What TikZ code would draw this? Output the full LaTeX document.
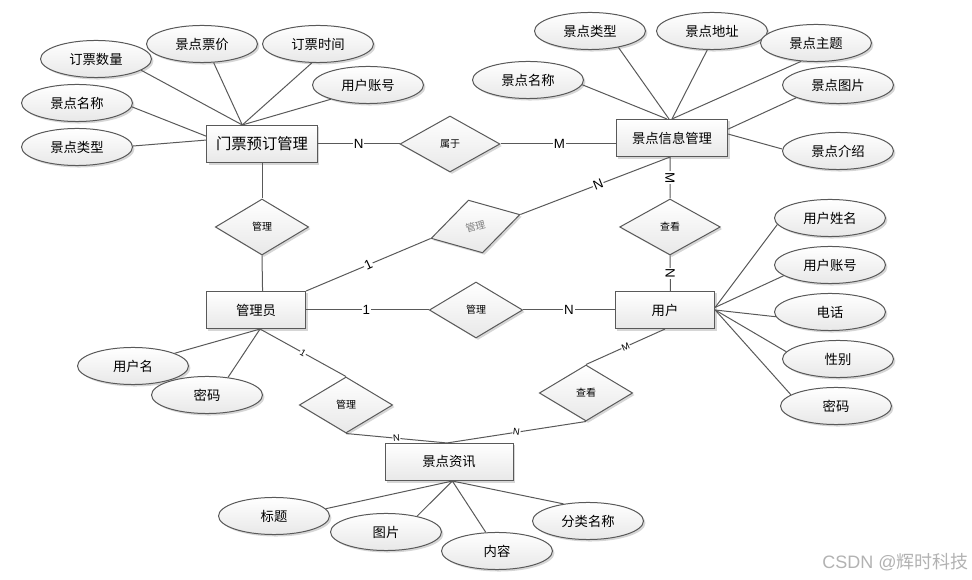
\documentclass[tikz,border=0pt]{standalone}
\usepackage{fontspec}
\setmainfont{Noto Sans CJK SC}
\newfontfamily\latinlab{Liberation Sans}
\usetikzlibrary{shapes.geometric,shadows}
\tikzset{
  basefig/.style={draw=black!65,line width=.75pt,top color=white,bottom color=black!9,inner sep=0pt,
    drop shadow={shadow xshift=1.5pt,shadow yshift=-1.5pt,opacity=.16,fill=black}},
  attr/.style={basefig,ellipse,minimum width=83.2pt,minimum height=27.8pt,font=\fontsize{10}{12}\selectfont},
  ent/.style={basefig,rectangle,minimum height=27.8pt,font=\fontsize{10}{12}\selectfont},
  rel/.style={basefig,diamond,aspect=1.7,font=\fontsize{7.5}{9}\selectfont},
  conn/.style={draw=black!65,line width=.75pt},
  lab/.style={fill=white,inner sep=.6pt,font=\latinlab\fontsize{10}{11}\selectfont},
  slab/.style={fill=white,inner sep=.4pt,font=\latinlab\fontsize{7}{8}\selectfont}
}
\begin{document}
\begin{tikzpicture}[x=.75pt,y=-.75pt]
\useasboundingbox (0,0) rectangle (972,580);
% attributes
\node[attr] (a1) at (96,59) {订票数量};
\node[attr] (a2) at (202,44) {景点票价};
\node[attr] (a3) at (318,44) {订票时间};
\node[attr] (a4) at (368,85) {用户账号};
\node[attr] (a5) at (77,103) {景点名称};
\node[attr] (a6) at (77,147) {景点类型};
\node[attr] (b1) at (590,31) {景点类型};
\node[attr] (b2) at (712,31) {景点地址};
\node[attr] (b3) at (816,43) {景点主题};
\node[attr] (b4) at (528,80) {景点名称};
\node[attr] (b5) at (838,85) {景点图片};
\node[attr] (b6) at (838,151) {景点介绍};
\node[attr] (c1) at (830,218) {用户姓名};
\node[attr] (c2) at (830,265) {用户账号};
\node[attr] (c3) at (830,312) {电话};
\node[attr] (c4) at (838,359) {性别};
\node[attr] (c5) at (836,406) {密码};
\node[attr] (d1) at (133,366) {用户名};
\node[attr] (d2) at (207,395) {密码};
\node[attr] (f1) at (274,516) {标题};
\node[attr] (f2) at (386,532) {图片};
\node[attr] (f3) at (497,551) {内容};
\node[attr] (f4) at (588,521) {分类名称};
% entities
\node[ent,minimum width=83.2pt,font=\fontsize{11.5}{13}\selectfont] (ticket) at (262,144) {门票预订管理};
\node[ent,minimum width=83.5pt] (info) at (672,138) {景点信息管理};
\node[ent,minimum width=74.5pt] (admin) at (256,310) {管理员};
\node[ent,minimum width=74.5pt] (user) at (665,310) {用户};
\node[ent,minimum width=96pt] (news) at (449,462) {景点资讯};
% relations
\node[rel,minimum width=75pt,minimum height=42pt] (r1) at (450,144) {属于};
\node[rel,minimum width=70pt,minimum height=42pt] (r2) at (262,227) {管理};
\node[rel,minimum width=75.5pt,minimum height=42pt] (r3) at (670,227) {查看};
\node[rel,minimum width=70pt,minimum height=42pt] (r4) at (476,310) {管理};
\node[rel,minimum width=70pt,minimum height=42pt] (r5) at (346,405) {管理};
\node[rel,minimum width=70pt,minimum height=42pt] (r6) at (586,393) {查看};
\node[rel,minimum width=69pt,minimum height=41pt,rotate=15,text=black!50] (r7) at (475.5,226.5) {管理};
% attribute connectors
\draw[conn] (a1.-14) -- (ticket.136);
\draw[conn] (a2.-58.6) -- (ticket.136);
\draw[conn] (a3.-108) -- (ticket.136);
\draw[conn] (a4.201.8) -- (ticket.136);
\draw[conn] (a5.-4) -- (ticket.172);
\draw[conn] (a6.1) -- (ticket.176);
\draw[conn] (b1.-30) -- (info.99);
\draw[conn] (b2.-104.7) -- (info.north);
\draw[conn] (b3.231.7) -- (info.north);
\draw[conn] (b4.-5.2) -- (info.105);
\draw[conn] (b5.197.6) -- (info.9);
\draw[conn] (b6.178) -- (info.4);
\draw[conn] (c1.187.5) -- (user.3.4);
\draw[conn] (c2.193.7) -- (user.3.4);
\draw[conn] (c3.185) -- (user.east);
\draw[conn] (c4.172) -- (user.east);
\draw[conn] (c5.166.8) -- (user.east);
\draw[conn] (d1.17.6) -- (admin.-78);
\draw[conn] (d2.40) -- (admin.-78);
\draw[conn] (f1.8.6) -- (news.-80);
\draw[conn] (f2.27.3) -- (news.-80);
\draw[conn] (f3.121.4) -- (news.-80);
\draw[conn] (f4.145) -- (news.-80);
% relationship connectors
\draw[conn] (ticket.east) -- node[lab,pos=.5] {N} (r1.west);
\draw[conn] (r1.east) -- node[lab,pos=.51] {M} (info.west |- r1.east);
\draw[conn] (ticket.south) -- (r2.north);
\draw[conn] (r2.south) -- (admin.71.6);
\draw[conn] (admin.north east) -- node[lab,pos=.5,rotate=25] {1} (r7.west);
\draw[conn] (r7.east) -- node[lab,pos=.52,rotate=22] {N} (info.-96);
\draw[conn] (info.-96) -- node[lab,pos=.5,rotate=-90] {M} (r3.north);
\draw[conn] (r3.south) -- node[lab,pos=.5,rotate=-90] {N} (user.74.5);
\draw[conn] (admin.east) -- node[lab,pos=.49] {1} (r4.west);
\draw[conn] (r4.east) -- node[lab,pos=.5] {N} (user.west);
\draw[conn] (admin.-78) -- node[slab,pos=.5,rotate=-30] {1} (r5.north);
\draw[conn] (r5.south) -- node[slab,pos=.5,rotate=5] {N} (news.96);
\draw[conn] (r6.south) -- node[slab,pos=.5,rotate=-8] {N} (news.96);
\draw[conn] (r6.north) -- node[slab,pos=.5,rotate=24] {M} (user.south);
% watermark
\node[text=black!30,font=\fontsize{13.5}{15}\selectfont,inner sep=0pt] (mark) at (895.5,562) {{\latinlab CSDN @}辉时科技};
\end{tikzpicture}
\end{document}
